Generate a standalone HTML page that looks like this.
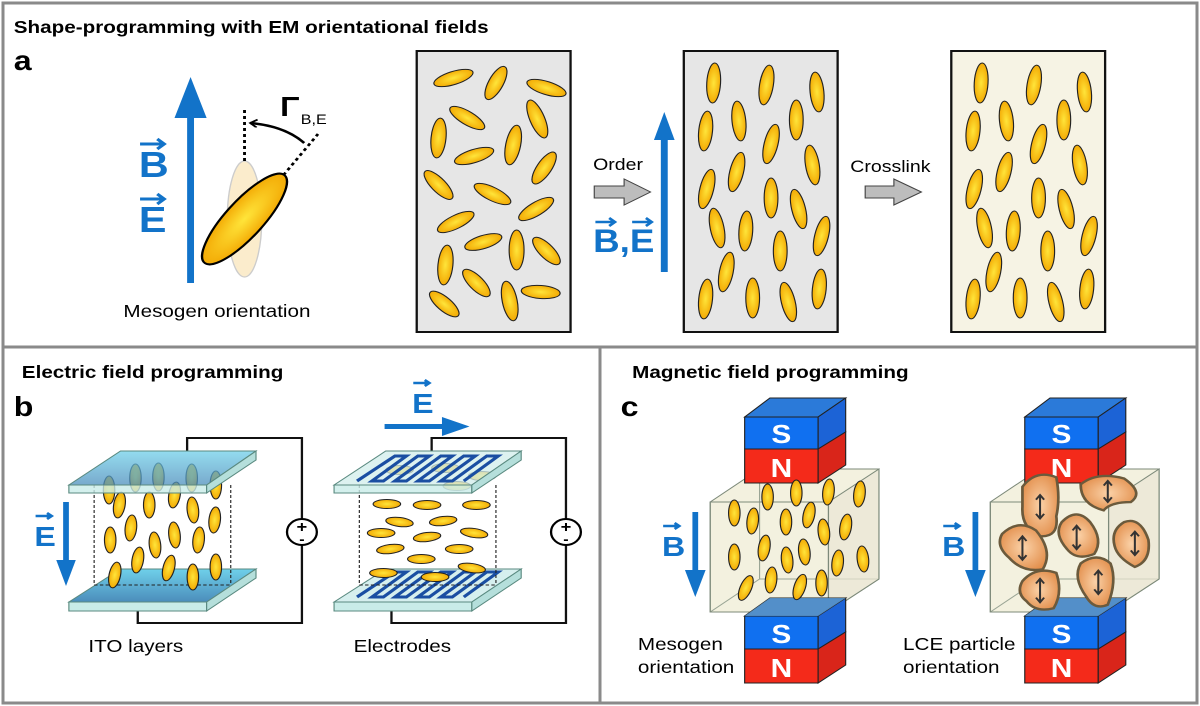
<!DOCTYPE html>
<html><head><meta charset="utf-8"><style>
html,body{margin:0;padding:0;background:#fff}
svg{display:block}
text{font-family:"Liberation Sans",Arial,sans-serif}
.y ellipse{fill:url(#yg);stroke:#222;stroke-width:1}
.bt{font-weight:bold;fill:#000}
.bl{fill:#1273c9;font-weight:bold}
</style></head><body>
<svg width="1200" height="706" viewBox="0 0 1200 706" xmlns="http://www.w3.org/2000/svg">
<defs>
<radialGradient id="yg" cx="50%" cy="50%" r="55%"><stop offset="0" stop-color="#ffe53a"/><stop offset="1" stop-color="#f2a500"/></radialGradient>
<radialGradient id="pg" cx="50%" cy="50%" r="60%"><stop offset="0" stop-color="#fbd2a8"/><stop offset="1" stop-color="#e18b47"/></radialGradient>
<linearGradient id="ito" x1="0" y1="0" x2="0" y2="1"><stop offset="0" stop-color="#6fd0ea"/><stop offset="1" stop-color="#4b8dbb"/></linearGradient>
<marker id="ah" markerWidth="9" markerHeight="9" refX="7" refY="4" orient="auto" markerUnits="userSpaceOnUse"><path d="M1,0 L7,4 L1,8" fill="none" stroke="#000" stroke-width="1.8"/></marker>
</defs>
<rect x="0" y="0" width="1200" height="706" fill="#fff"/>

<g transform="scale(1.148,1)">
<text x="12" y="33" class="bt" font-size="18">Shape-programming with EM orientational fields</text>
<text x="12" y="70" class="bt" font-size="28">a</text>
<rect x="163" y="115" width="6" height="168" fill="#1273c9"/>
<polygon points="152,118 166,77 180,118" fill="#1273c9"/>
<text x="121" y="177" class="bl" font-size="36">B</text>
<text x="121" y="232" class="bl" font-size="36">E</text>
<path d="M122,144 h20 M137,139 l6,5 l-6,5" stroke="#1273c9" stroke-width="3" fill="none"/>
<path d="M122,199 h20 M137,194 l6,5 l-6,5" stroke="#1273c9" stroke-width="3" fill="none"/>
<ellipse cx="213" cy="219" rx="15" ry="58" fill="#fbeccc" stroke="#ccc" stroke-width="1.2"/>
<line x1="213" y1="110" x2="213" y2="162" stroke="#000" stroke-width="2.5" stroke-dasharray="3,3"/>
<line x1="247" y1="175" x2="277" y2="134" stroke="#000" stroke-width="2.5" stroke-dasharray="3,3"/>
<ellipse cx="213" cy="219" rx="56" ry="17" transform="rotate(-52 213 219)" fill="url(#yg)" stroke="#000" stroke-width="2"/>
<path d="M265,143 Q248,126 218,123" fill="none" stroke="#000" stroke-width="2.5" marker-end="url(#ah)"/>
<text x="244" y="116" class="bt" font-size="28">Γ</text>
<text x="262" y="124" font-size="14">B,E</text>
<text x="189" y="317" font-size="18" text-anchor="middle">Mesogen orientation</text>

<rect x="363" y="51" width="134" height="281" fill="#e6e6e6" stroke="#111" stroke-width="2"/>
<g class="y">
<ellipse cx="395" cy="78" rx="18" ry="6.5" transform="rotate(-20 395 78)"/>
<ellipse cx="432" cy="83" rx="18" ry="6.5" transform="rotate(-65 432 83)"/>
<ellipse cx="476" cy="88" rx="18" ry="6.5" transform="rotate(20 476 88)"/>
<ellipse cx="407" cy="118" rx="18" ry="6.5" transform="rotate(35 407 118)"/>
<ellipse cx="468" cy="119" rx="20" ry="6.5" transform="rotate(70 468 119)"/>
<ellipse cx="382" cy="138" rx="20" ry="6.5" transform="rotate(-85 382 138)"/>
<ellipse cx="447" cy="145" rx="20" ry="6.5" transform="rotate(-80 447 145)"/>
<ellipse cx="413" cy="156" rx="18" ry="6.5" transform="rotate(-20 413 156)"/>
<ellipse cx="474" cy="168" rx="18" ry="6.5" transform="rotate(-60 474 168)"/>
<ellipse cx="382" cy="185" rx="18" ry="6.5" transform="rotate(50 382 185)"/>
<ellipse cx="429" cy="194" rx="18" ry="6.5" transform="rotate(30 429 194)"/>
<ellipse cx="467" cy="209" rx="18" ry="6.5" transform="rotate(-35 467 209)"/>
<ellipse cx="397" cy="222" rx="18" ry="6.5" transform="rotate(-30 397 222)"/>
<ellipse cx="421" cy="242" rx="17" ry="6.5" transform="rotate(-20 421 242)"/>
<ellipse cx="450" cy="250" rx="20" ry="6.5" transform="rotate(90 450 250)"/>
<ellipse cx="476" cy="251" rx="17" ry="6.5" transform="rotate(50 476 251)"/>
<ellipse cx="388" cy="265" rx="20" ry="6.5" transform="rotate(-85 388 265)"/>
<ellipse cx="415" cy="283" rx="17" ry="6.5" transform="rotate(50 415 283)"/>
<ellipse cx="387" cy="304" rx="17" ry="6.5" transform="rotate(45 387 304)"/>
<ellipse cx="444" cy="301" rx="20" ry="6.5" transform="rotate(80 444 301)"/>
<ellipse cx="471" cy="292" rx="17" ry="6.5" transform="rotate(5 471 292)"/>
</g>

<text x="19" y="378" class="bt" font-size="18">Electric field programming</text>
<text x="12" y="416" class="bt" font-size="28">b</text>
<rect x="55" y="502" width="5" height="60" fill="#1273c9"/>
<polygon points="49,560 57.5,586 66,560" fill="#1273c9"/>
<text x="30" y="546" class="bl" font-size="28">E</text>
<path d="M31,516 h14 M41,513 l4,3 l-4,3" stroke="#1273c9" stroke-width="2.5" fill="none"/>
<path d="M163,451 V438 H263 V623 H120 V611" fill="none" stroke="#111" stroke-width="2"/>
<circle cx="263" cy="532" r="13" fill="#fff" stroke="#000" stroke-width="2"/>
<text x="263" y="532" text-anchor="middle" font-size="16" font-weight="bold">+</text>
<text x="263" y="544" text-anchor="middle" font-size="14" font-weight="bold">-</text>
<polygon points="60,602 105,569 223,569 180,602" fill="url(#ito)" stroke="#5a8a80"/>
<polygon points="60,602 180,602 180,611 60,611" fill="#c9ece8" stroke="#5a8a80"/>
<polygon points="180,602 223,569 223,578 180,611" fill="#b5dfdb" stroke="#5a8a80"/>
<path d="M82,485 V585 H201 M201,485 V585" fill="none" stroke="#222" stroke-width="1" stroke-dasharray="3,2"/>
<g class="y">
<ellipse cx="95" cy="490" rx="5" ry="14"/><ellipse cx="118" cy="478" rx="5" ry="14"/><ellipse cx="138" cy="477" rx="5" ry="14"/><ellipse cx="167" cy="478" rx="5" ry="14"/><ellipse cx="188" cy="485" rx="5" ry="14"/>
<ellipse cx="104" cy="505" rx="5" ry="13" transform="rotate(8 104 505)"/><ellipse cx="130" cy="505" rx="5" ry="13"/><ellipse cx="152" cy="495" rx="5" ry="13" transform="rotate(8 152 495)"/><ellipse cx="168" cy="510" rx="5" ry="13" transform="rotate(-5 168 510)"/><ellipse cx="187" cy="520" rx="5" ry="13" transform="rotate(5 187 520)"/>
<ellipse cx="114" cy="528" rx="5" ry="13" transform="rotate(5 114 528)"/><ellipse cx="96" cy="540" rx="5" ry="13"/><ellipse cx="135" cy="545" rx="5" ry="13" transform="rotate(-5 135 545)"/><ellipse cx="152" cy="535" rx="5" ry="13" transform="rotate(-5 152 535)"/><ellipse cx="173" cy="540" rx="5" ry="13" transform="rotate(5 173 540)"/>
<ellipse cx="120" cy="560" rx="5" ry="13" transform="rotate(8 120 560)"/><ellipse cx="147" cy="568" rx="5" ry="13" transform="rotate(12 147 568)"/><ellipse cx="188" cy="567" rx="5" ry="13"/><ellipse cx="100" cy="575" rx="5" ry="13" transform="rotate(10 100 575)"/><ellipse cx="168" cy="577" rx="5" ry="13"/>
</g>
<polygon points="60,485 105,451 223,451 180,485" fill="url(#ito)" fill-opacity="0.75" stroke="#5a8a80"/>
<polygon points="60,485 180,485 180,493 60,493" fill="#c9ece8" fill-opacity="0.8" stroke="#5a8a80"/>
<polygon points="180,485 223,451 223,460 180,493" fill="#b5dfdb" stroke="#5a8a80"/>
<text x="77" y="652" font-size="18">ITO layers</text>

<rect x="335" y="424" width="55" height="5" fill="#1273c9"/>
<polygon points="385,417 409,426.5 385,436" fill="#1273c9"/>
<text x="359" y="413" class="bl" font-size="28">E</text>
<path d="M360,383 h14 M370,380 l4,3 l-4,3" stroke="#1273c9" stroke-width="2.5" fill="none"/>
<path d="M376,451 V438 H493 V623 H341 V611" fill="none" stroke="#111" stroke-width="2"/>
<circle cx="493" cy="532" r="13" fill="#fff" stroke="#000" stroke-width="2"/>
<text x="493" y="532" text-anchor="middle" font-size="16" font-weight="bold">+</text>
<text x="493" y="544" text-anchor="middle" font-size="14" font-weight="bold">-</text>
<polygon points="291,602 336,569 454,569 411,602" fill="#d6efee" stroke="#5a8a80"/>
<path d="M311,597 L344,572 L354,572 L324,597 L334,597 L364,572 L374,572 L344,597 L354,597 L384,572 L394,572 L364,597 L374,597 L404,572 L414,572 L384,597 L394,597 L424,572 L434,572 L404,597" fill="none" stroke="#1a4ea2" stroke-width="3"/>
<polygon points="291,602 411,602 411,611 291,611" fill="#c9ece8" stroke="#5a8a80"/>
<polygon points="411,602 454,569 454,578 411,611" fill="#b5dfdb" stroke="#5a8a80"/>
<path d="M313,485 V585 H432 M432,485 V585" fill="none" stroke="#222" stroke-width="1" stroke-dasharray="3,2"/>
<g class="y">
<ellipse cx="337" cy="504" rx="12" ry="4.5"/><ellipse cx="372" cy="505" rx="12" ry="4.5"/><ellipse cx="415" cy="505" rx="12" ry="4.5"/>
<ellipse cx="348" cy="522" rx="12" ry="4.5" transform="rotate(8 348 522)"/><ellipse cx="386" cy="521" rx="12" ry="4.5" transform="rotate(-8 386 521)"/>
<ellipse cx="332" cy="533" rx="12" ry="4.5"/><ellipse cx="372" cy="537" rx="12" ry="4.5" transform="rotate(-8 372 537)"/><ellipse cx="413" cy="533" rx="12" ry="4.5" transform="rotate(10 413 533)"/>
<ellipse cx="340" cy="549" rx="12" ry="4.5" transform="rotate(-8 340 549)"/><ellipse cx="400" cy="549" rx="12" ry="4.5"/>
<ellipse cx="367" cy="559" rx="12" ry="4.5"/><ellipse cx="334" cy="573" rx="12" ry="4.5"/><ellipse cx="379" cy="577" rx="12" ry="4.5"/><ellipse cx="411" cy="568" rx="12" ry="4.5" transform="rotate(10 411 568)"/>
<ellipse cx="348" cy="470" rx="12" ry="4.5" opacity="0.6"/><ellipse cx="388" cy="468" rx="12" ry="4.5" opacity="0.6"/><ellipse cx="420" cy="476" rx="12" ry="4.5" opacity="0.6"/><ellipse cx="398" cy="486" rx="12" ry="4.5" opacity="0.6"/>
</g>
<polygon points="291,485 336,451 454,451 411,485" fill="#c6e9e6" fill-opacity="0.6" stroke="#5a8a80"/>
<path d="M311,481 L344,456 L354,456 L324,481 L334,481 L364,456 L374,456 L344,481 L354,481 L384,456 L394,456 L364,481 L374,481 L404,456 L414,456 L384,481 L394,481 L424,456 L434,456 L404,481" fill="none" stroke="#1a4ea2" stroke-width="3"/>
<polygon points="291,485 411,485 411,493 291,493" fill="#c9ece8" fill-opacity="0.8" stroke="#5a8a80"/>
<polygon points="411,485 454,451 454,460 411,493" fill="#b5dfdb" stroke="#5a8a80"/>
<text x="308" y="652" font-size="18">Electrodes</text>
</g>

<g transform="translate(600,0) scale(1.148,1) translate(-600,0)">
<rect x="673" y="51" width="134" height="281" fill="#e6e6e6" stroke="#111" stroke-width="2"/>
<rect x="906" y="51" width="134" height="281" fill="#f6f3e4" stroke="#111" stroke-width="2"/>
<g id="ord" class="y">
<ellipse cx="699" cy="83" rx="6" ry="20" transform="rotate(3 699 83)"/>
<ellipse cx="745" cy="85" rx="6" ry="20" transform="rotate(8 745 85)"/>
<ellipse cx="789" cy="92" rx="6" ry="20" transform="rotate(-5 789 92)"/>
<ellipse cx="721" cy="121" rx="6" ry="20" transform="rotate(-5 721 121)"/>
<ellipse cx="771" cy="120" rx="6" ry="20"/>
<ellipse cx="692" cy="131" rx="6" ry="20" transform="rotate(5 692 131)"/>
<ellipse cx="749" cy="144" rx="6" ry="20" transform="rotate(12 749 144)"/>
<ellipse cx="785" cy="165" rx="6" ry="20" transform="rotate(-8 785 165)"/>
<ellipse cx="719" cy="172" rx="6" ry="20" transform="rotate(12 719 172)"/>
<ellipse cx="693" cy="189" rx="6" ry="20" transform="rotate(12 693 189)"/>
<ellipse cx="749" cy="198" rx="6" ry="20"/>
<ellipse cx="773" cy="209" rx="6" ry="20" transform="rotate(-12 773 209)"/>
<ellipse cx="702" cy="228" rx="6" ry="20" transform="rotate(-10 702 228)"/>
<ellipse cx="727" cy="231" rx="6" ry="20" transform="rotate(3 727 231)"/>
<ellipse cx="793" cy="236" rx="6" ry="20" transform="rotate(12 793 236)"/>
<ellipse cx="757" cy="251" rx="6" ry="20"/>
<ellipse cx="710" cy="272" rx="6" ry="20" transform="rotate(10 710 272)"/>
<ellipse cx="692" cy="299" rx="6" ry="20" transform="rotate(5 692 299)"/>
<ellipse cx="733" cy="298" rx="6" ry="20"/>
<ellipse cx="764" cy="302" rx="6" ry="20" transform="rotate(-12 764 302)"/>
<ellipse cx="791" cy="289" rx="6" ry="20" transform="rotate(5 791 289)"/>
</g>
<use href="#ord" x="233" y="0"/>
<text x="594" y="170" font-size="17">Order</text>
<polygon points="595,186 621,186 621,179 644,192 621,205 621,198 595,198" fill="#bdbdbd" stroke="#444" stroke-width="1"/>
<rect x="653" y="138" width="6" height="134" fill="#1273c9"/>
<polygon points="647,140 656,112 665,140" fill="#1273c9"/>
<text x="594" y="252" class="bl" font-size="32">B,E</text>
<path d="M596,222 h17 M608,218 l5,4 l-5,4 M628,222 h17 M640,218 l5,4 l-5,4" stroke="#1273c9" stroke-width="2.5" fill="none"/>
<text x="818" y="172" font-size="17">Crosslink</text>
<polygon points="831,186 856,186 856,179 880,192 856,205 856,198 831,198" fill="#bdbdbd" stroke="#444" stroke-width="1"/>

<text x="628" y="378" class="bt" font-size="18">Magnetic field programming</text>
<text x="618" y="416" class="bt" font-size="28">c</text>
<g id="mset">
<polygon points="696,502 739,469 843,469 843,579 799,612 696,612" fill="#f3f1df" stroke="#7d8a7a"/>
<path d="M739,469 V579 H843 M739,579 L696,612" fill="none" stroke="#9aa595" stroke-width="1"/>
<polygon points="799,502 843,469 843,579 799,612" fill="#e9e6d4" fill-opacity="0.7" stroke="#7d8a7a"/>
<rect x="696" y="502" width="103" height="110" fill="none" stroke="#7d8a7a"/>
<polygon points="726,616 748,598 814,598 790,616" fill="#2b7ad9" stroke="#222"/>
<rect x="726" y="616" width="64" height="33" fill="#1070f0" stroke="#222"/>
<rect x="726" y="649" width="64" height="34" fill="#f42a1a" stroke="#222"/>
<polygon points="790,616 814,598 814,632 790,649" fill="#1c63d6" stroke="#222"/>
<polygon points="790,649 814,632 814,665 790,683" fill="#d9251a" stroke="#222"/>
<text x="758" y="643" fill="#fff" font-size="26" font-weight="bold" text-anchor="middle">S</text>
<text x="758" y="677" fill="#fff" font-size="26" font-weight="bold" text-anchor="middle">N</text>
<polygon points="726,616 748,598 814,598 790,616" fill="#5b93c6" fill-opacity="0.85"/>
<polygon points="726,417 748,398 814,398 790,417" fill="#2b7ad9" stroke="#222"/>
<rect x="726" y="417" width="64" height="32" fill="#1070f0" stroke="#222"/>
<rect x="726" y="449" width="64" height="34" fill="#f42a1a" stroke="#222"/>
<polygon points="790,417 814,398 814,432 790,449" fill="#1c63d6" stroke="#222"/>
<polygon points="790,449 814,432 814,465 790,483" fill="#d9251a" stroke="#222"/>
<text x="758" y="443" fill="#fff" font-size="26" font-weight="bold" text-anchor="middle">S</text>
<text x="758" y="477" fill="#fff" font-size="26" font-weight="bold" text-anchor="middle">N</text>
<rect x="680.5" y="512" width="5" height="60" fill="#1273c9"/>
<polygon points="674,570 683,597 692,570" fill="#1273c9"/>
<text x="654" y="556" class="bl" font-size="28">B</text>
<path d="M655,526 h14 M665,523 l4,3 l-4,3" stroke="#1273c9" stroke-width="2.5" fill="none"/>
</g>
<use href="#mset" x="244" y="0"/>
<g class="y">
<ellipse cx="717" cy="513" rx="5" ry="13"/><ellipse cx="733" cy="521" rx="5" ry="13" transform="rotate(5 733 521)"/><ellipse cx="746" cy="497" rx="5" ry="13"/><ellipse cx="771" cy="493" rx="5" ry="13"/><ellipse cx="799" cy="492" rx="5" ry="13" transform="rotate(5 799 492)"/><ellipse cx="826" cy="494" rx="5" ry="13" transform="rotate(5 826 494)"/>
<ellipse cx="762" cy="522" rx="5" ry="13"/><ellipse cx="782" cy="515" rx="5" ry="13" transform="rotate(10 782 515)"/><ellipse cx="795" cy="532" rx="5" ry="13" transform="rotate(-5 795 532)"/><ellipse cx="814" cy="527" rx="5" ry="13" transform="rotate(8 814 527)"/>
<ellipse cx="717" cy="557" rx="5" ry="13"/><ellipse cx="743" cy="548" rx="5" ry="13" transform="rotate(8 743 548)"/><ellipse cx="763" cy="560" rx="5" ry="13" transform="rotate(-5 763 560)"/><ellipse cx="778" cy="552" rx="5" ry="13" transform="rotate(-5 778 552)"/><ellipse cx="807" cy="563" rx="5" ry="13" transform="rotate(5 807 563)"/><ellipse cx="829" cy="559" rx="5" ry="13" transform="rotate(-5 829 559)"/>
<ellipse cx="727" cy="588" rx="5" ry="13" transform="rotate(20 727 588)"/><ellipse cx="749" cy="580" rx="5" ry="13" transform="rotate(5 749 580)"/><ellipse cx="774" cy="587" rx="5" ry="13" transform="rotate(15 774 587)"/><ellipse cx="793" cy="583" rx="5" ry="13"/>
</g>
<text x="633" y="650" font-size="18">Mesogen</text>
<text x="633" y="673" font-size="18">orientation</text>
<g transform="translate(1014,541) scale(1.18) translate(-1014,-541)">
<g fill="url(#pg)" stroke="#6b5a3c" stroke-width="2">
<path d="M975,495 Q985,480 1000,487 Q1003,505 1000,520 Q1002,538 988,537 Q974,530 975,512 Z"/>
<path d="M1018,493 Q1030,482 1050,488 Q1065,500 1055,508 Q1040,508 1035,515 Q1018,510 1018,493 Z"/>
<path d="M1004,525 Q1015,512 1025,525 Q1035,540 1028,552 Q1015,558 1008,548 Q998,535 1004,525 Z"/>
<path d="M960,535 Q972,522 985,532 Q998,550 990,565 Q975,568 965,555 Q955,545 960,535 Z"/>
<path d="M1050,525 Q1062,520 1068,540 Q1070,558 1058,563 Q1045,555 1043,545 Q1040,532 1050,525 Z"/>
<path d="M975,575 Q985,562 1000,568 Q1005,585 998,598 Q985,602 978,592 Q970,585 975,575 Z"/>
<path d="M1018,560 Q1030,550 1040,560 Q1045,575 1038,595 Q1028,600 1022,588 Q1012,572 1018,560 Z"/>
</g>
<g stroke="#333" stroke-width="1.5" fill="none">
<path d="M988,502 V522 M985,506 l3,-4 l3,4 M985,518 l3,4 l3,-4"/>
<path d="M1038,490 V508 M1035,494 l3,-4 l3,4 M1035,504 l3,4 l3,-4"/>
<path d="M1015,528 V548 M1012,532 l3,-4 l3,4 M1012,544 l3,4 l3,-4"/>
<path d="M975,537 V557 M972,541 l3,-4 l3,4 M972,553 l3,4 l3,-4"/>
<path d="M1058,533 V553 M1055,537 l3,-4 l3,4 M1055,549 l3,4 l3,-4"/>
<path d="M988,573 V593 M985,577 l3,-4 l3,4 M985,589 l3,4 l3,-4"/>
<path d="M1031,566 V586 M1028,570 l3,-4 l3,4 M1028,582 l3,4 l3,-4"/>
</g>
</g>
<text x="864" y="650" font-size="18">LCE particle</text>
<text x="864" y="673" font-size="18">orientation</text>
</g>

<rect x="3" y="3" width="1194" height="700" fill="none" stroke="#8a8a8a" stroke-width="3"/>
<line x1="3" y1="347" x2="1197" y2="347" stroke="#8a8a8a" stroke-width="3"/>
<line x1="600" y1="347" x2="600" y2="703" stroke="#8a8a8a" stroke-width="3"/>
</svg>
</body></html>
